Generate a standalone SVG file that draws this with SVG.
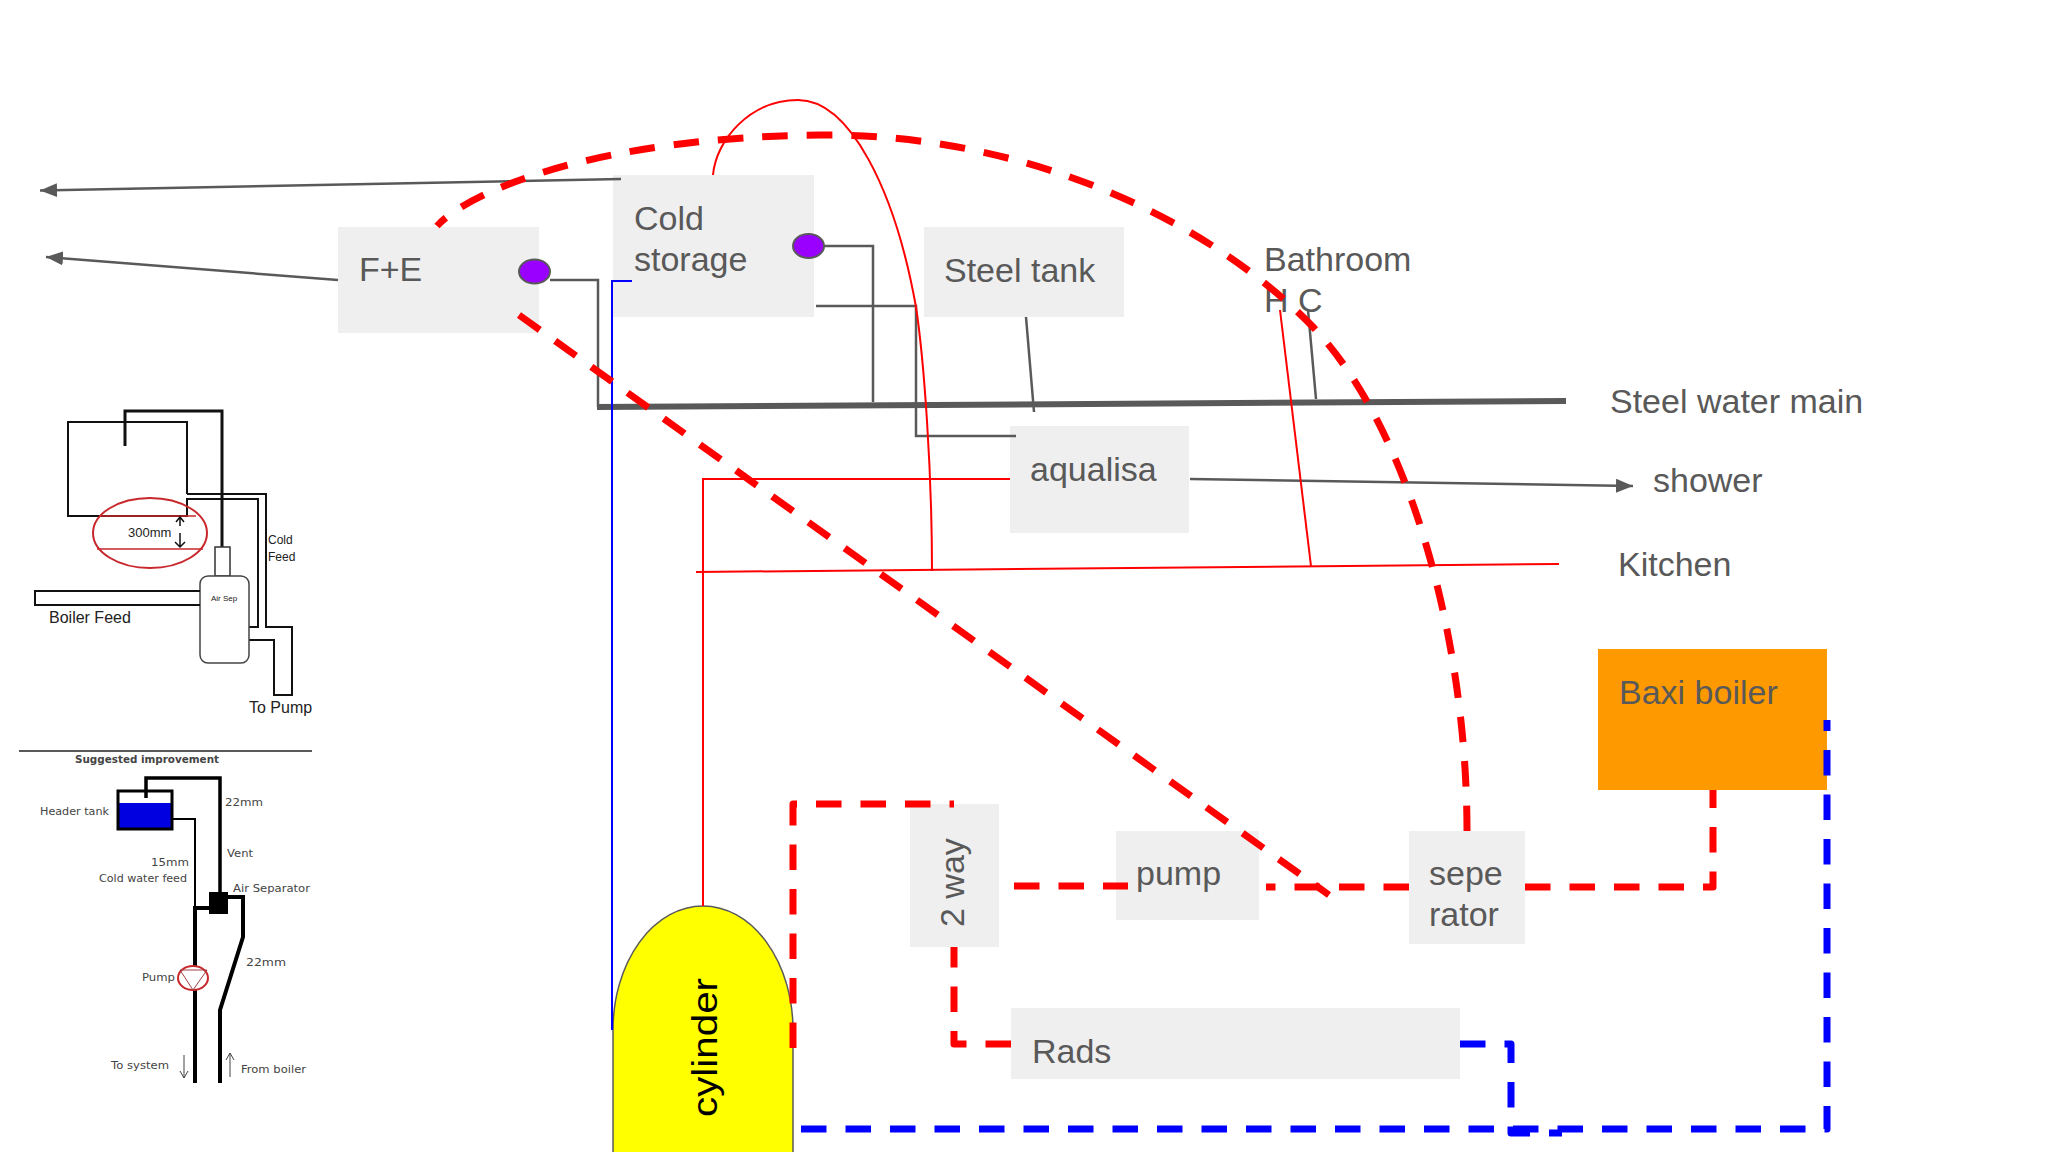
<svg xmlns="http://www.w3.org/2000/svg" width="2048" height="1152" viewBox="0 0 2048 1152">
<style>
.box{fill:#efefef}
.t{font-family:"Liberation Sans",Arial,sans-serif;font-size:34px;fill:#595959}
.dot{fill:#9900ff;stroke:#595959;stroke-width:2}
.g{fill:none;stroke:#595959;stroke-width:2.5}
.r{fill:none;stroke:#f00;stroke-width:2}
.rd{fill:none;stroke:#f00;stroke-width:7;stroke-dasharray:25.5 19;stroke-linejoin:round}
.bd{fill:none;stroke:#00f;stroke-width:7;stroke-dasharray:25.5 19;stroke-linejoin:round}
.k{fill:none;stroke:#111;stroke-width:2;stroke-linejoin:miter}
.kk{fill:none;stroke:#000;stroke-width:4}
.s{font-family:"Liberation Sans",Arial,sans-serif;fill:#222}
.p{font-family:"DejaVu Sans",sans-serif;font-size:10px;fill:#444}
.rt{fill:none;stroke:#c8282c;stroke-width:2}
</style>
<defs>
<marker id="arr" markerUnits="userSpaceOnUse" markerWidth="18" markerHeight="14" refX="17" refY="7" orient="auto"><path d="M0 0L17 7L0 14Z" fill="#595959"/></marker>
</defs>
<rect width="2048" height="1152" fill="#fff"/>

<g id="ref-top">
<path class="k" d="M187 494V422H68V516H187V499H258V627H249M187 494H266V627H292V695H274V640H249"/>
<path class="k" style="stroke-width:3" d="M125 446V411H222V547"/>
<rect x="215" y="547" width="15" height="29" fill="#fff" stroke="#333" stroke-width="1.5"/>
<rect x="200" y="576" width="49" height="87" rx="8" fill="#fff" stroke="#444" stroke-width="1.5"/>
<path class="k" d="M200 591H35V605H200"/>
<ellipse class="rt" cx="150" cy="533" rx="57" ry="35"/>
<path class="rt" style="stroke-width:1.5" d="M100 516H196M97 549H203"/>
<path fill="none" stroke="#111" stroke-width="1.5" d="M180 518V526M176 522L180 517L184 522M180 533V547M175 542L180 547L185 542"/>
<text class="s" x="128" y="537" font-size="13">300mm</text>
<text class="s" x="268" y="544" font-size="12">Cold</text>
<text class="s" x="268" y="561" font-size="12">Feed</text>
<text class="s" x="211" y="601" font-size="8">Air Sep</text>
<text class="s" x="49" y="623" font-size="16">Boiler Feed</text>
<text class="s" x="249" y="713" font-size="16">To Pump</text>
</g>

<g id="ref-bottom">
<path fill="none" stroke="#595959" stroke-width="2" d="M19 751H312"/>
<text class="p" x="75" y="763" font-weight="bold" textLength="144" lengthAdjust="spacingAndGlyphs">Suggested improvement</text>
<rect x="118" y="803" width="54" height="26" fill="#0000e0"/>
<rect x="118" y="791" width="54" height="38" fill="none" stroke="#000" stroke-width="3"/>
<path class="k" style="stroke-width:3.5;stroke:#000" d="M146 798V778H220V893"/>
<path class="k" style="stroke:#000" d="M172 819H195V908"/>
<path class="kk" d="M195 1083V908H210M228 897H243V937L220 1010V1083"/>
<rect x="209" y="892" width="19" height="22" fill="#000"/>
<ellipse cx="193" cy="978" rx="15" ry="12" fill="#fff" stroke="#c8282c" stroke-width="2"/>
<path fill="none" stroke="#a04048" stroke-width="1" d="M180 970H207L193 990Z"/>
<path fill="none" stroke="#444" stroke-width="1" d="M184 1055V1078M180 1071L184 1078L188 1071M230 1077V1053M226 1060L230 1053L234 1060"/>
<text class="p" x="40" y="815" textLength="69" lengthAdjust="spacingAndGlyphs">Header tank</text>
<text class="p" x="225" y="806" textLength="38" lengthAdjust="spacingAndGlyphs">22mm</text>
<text class="p" x="227" y="857" textLength="26" lengthAdjust="spacingAndGlyphs">Vent</text>
<text class="p" x="151" y="866" textLength="38" lengthAdjust="spacingAndGlyphs">15mm</text>
<text class="p" x="99" y="882" textLength="88" lengthAdjust="spacingAndGlyphs">Cold water feed</text>
<text class="p" x="233" y="892" textLength="77" lengthAdjust="spacingAndGlyphs">Air Separator</text>
<text class="p" x="246" y="966" textLength="40" lengthAdjust="spacingAndGlyphs">22mm</text>
<text class="p" x="142" y="981" textLength="33" lengthAdjust="spacingAndGlyphs">Pump</text>
<text class="p" x="111" y="1069" textLength="58" lengthAdjust="spacingAndGlyphs">To system</text>
<text class="p" x="241" y="1073" textLength="65" lengthAdjust="spacingAndGlyphs">From boiler</text>
</g>

<g id="fe"><rect class="box" x="338" y="227" width="201" height="106"/><text class="t" x="359" y="281">F+E</text><ellipse class="dot" cx="534.500" cy="271.500" rx="15.500" ry="12"/></g>
<g id="cold"><rect class="box" x="613" y="175" width="201" height="142"/><text class="t" x="634" y="230">Cold</text><text class="t" x="634" y="271">storage</text><ellipse class="dot" cx="808.500" cy="246" rx="15.500" ry="12"/></g>
<g id="steel"><rect class="box" x="924" y="227" width="200" height="90"/><text class="t" x="944" y="282">Steel tank</text></g>
<g id="bathroom"><text class="t" x="1264" y="271">Bathroom</text><text class="t" x="1264" y="312">H C</text></g>
<g id="main-label"><text class="t" x="1610" y="413">Steel water main</text></g>
<g id="aqualisa"><rect class="box" x="1010" y="426" width="179" height="107"/><text class="t" x="1030" y="481">aqualisa</text></g>
<g id="shower"><text class="t" x="1653" y="492">shower</text></g>
<g id="kitchen"><text class="t" x="1618" y="576">Kitchen</text></g>
<g id="boiler"><rect x="1598" y="649" width="229" height="141" fill="#ff9900"/><text class="t" x="1619" y="704">Baxi boiler</text></g>
<g id="separator"><rect class="box" x="1409" y="831" width="116" height="113"/><text class="t" x="1429" y="885">sepe</text><text class="t" x="1429" y="926">rator</text></g>
<g id="pump"><rect class="box" x="1116" y="831" width="143" height="89"/><text class="t" x="1136" y="885">pump</text></g>
<g id="twoway"><rect class="box" x="910" y="804" width="89" height="143"/><text class="t" transform="translate(964 927) rotate(-90)">2 way</text></g>
<g id="rads"><rect class="box" x="1011" y="1008" width="449" height="71"/><text class="t" x="1032" y="1063">Rads</text></g>
<g id="cylinder"><path d="M613 1160V1030A90 124 0 0 1 793 1030V1160Z" fill="#ff0" stroke="#595959" stroke-width="1.500"/><text transform="translate(717 1117) rotate(-90)" font-family="Liberation Sans,Arial,sans-serif" font-size="35" fill="#000" textLength="139" lengthAdjust="spacingAndGlyphs">cylinder</text></g>

<g id="connectors">
<path class="g" marker-end="url(#arr)" d="M621 179L40 190.500"/>
<path class="g" marker-end="url(#arr)" d="M338 280L46 257"/>
<path class="g" d="M550 280H598V407"/>
<path class="g" d="M823 246H873V402"/>
<path class="g" d="M816 306H916V436H1016"/>
<path fill="none" stroke="#595959" stroke-width="6" d="M597 407L1566 401"/>
<path class="g" d="M1026 317L1034 412"/>
<path class="g" d="M1308 310L1316 399"/>
<path class="g" marker-end="url(#arr)" d="M1190 479L1633 486"/>
<path fill="none" stroke="#00f" stroke-width="2" d="M632 281H612V1030"/>
<path class="r" d="M713 175C716 140 750 100 798 100C850 100 895 190 916 307C924 360 932 470 932 571"/>
<path class="r" d="M696 572L1559 564"/>
<path class="r" d="M1010 479H703V906"/>
<path class="r" d="M1280 310L1311 566"/>
<path class="rd" d="M1467 831C1467 640 1410 430 1314 328C1200 210 1010 133 820 135C600 137 470 190 437 226"/>
<path class="rd" d="M519 315L1329 895"/>
<path class="rd" d="M1014 886H1128"/>
<path class="rd" d="M1409 887H1266"/>
<path class="rd" d="M793 1048V804H954"/>
<path class="rd" d="M1011 1044H954V947"/>
<path class="rd" d="M1525 887H1713V790"/>
<path class="bd" d="M1460 1044H1511V1133H1562"/>
<path class="bd" d="M801 1129H1827V720"/>
</g>
</svg>
